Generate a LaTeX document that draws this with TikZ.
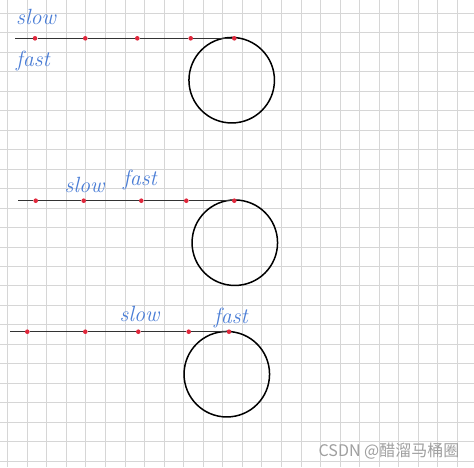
\documentclass[tikz,border=0pt]{standalone}
\usepackage{fontspec}
\newfontfamily\cjkfont{Noto Sans CJK SC}
\usepackage{tikz}
\usetikzlibrary{positioning}

\definecolor{penblue}{RGB}{74,125,214}
\definecolor{dotred}{RGB}{224,40,60}
\definecolor{gridgray}{RGB}{214,214,214}

\begin{document}
\begin{tikzpicture}[x=1pt,y=-1pt]
				\tikzstyle{GridLine}	= [gridgray, line width=0.9pt]
				\tikzstyle{Dot}		= [circle, fill=dotred, minimum size=4.6pt, inner sep=0pt]
				\tikzstyle{Track}	= [line width=1.3pt, black!80]
				\tikzstyle{Loop}	= [circle, draw, line width=1.5pt, minimum size=85.5pt, inner sep=0pt]
				\tikzstyle{Pen}		= [penblue, font=\fontsize{22}{22}\selectfont\itshape, inner sep=0pt]

				\useasboundingbox [fill=white] (0,0) rectangle (474,467);
				% grid paper
				\foreach \i in {0,...,23}
					\draw [GridLine] (7.7+19.55*\i,0) -- (7.7+19.55*\i,467);
				\foreach \j in {0,...,23}
					\draw [GridLine] (0,13.2+19.48*\j) -- (474,13.2+19.48*\j);

				% first row
				\node (c1) at (231.7,80.2) [Loop] {};
				\coordinate (s1) at (15,38.3);
				\node (a1) at (35,38.3) [Dot] {};
				\node (a2) at (85.3,38.3) [Dot] {};
				\node (a3) at (137.3,38.3) [Dot] {};
				\node (a4) at (190.7,38.3) [Dot] {};
				\node (a5) at (234.3,38.3) [Dot] {};
				\node (slow1) at (36,17) [Pen] {slow};
				\node (fast1) at (33,61) [Pen] {fast};

				\draw [Track] (s1) to (a1);
				\draw [Track] (a1) to (a2);
				\draw [Track] (a2) to (a3);
				\draw [Track] (a3) to (a4);
				\draw [Track] (a4) to (a5);

				% second row
				\node (c2) at (234.8,242.7) [Loop] {};
				\coordinate (s2) at (18.3,200.7);
				\node (b1) at (35.7,200.7) [Dot] {};
				\node (b2) at (83.7,200.7) [Dot] {};
				\node (b3) at (141.3,200.7) [Dot] {};
				\node (b4) at (186.3,200.7) [Dot] {};
				\node (b5) at (234.3,200.7) [Dot] {};
				\node (slow2) at (84.5,185) [Pen] {slow};
				\node (fast2) at (140,180) [Pen] {fast};

				\draw [Track] (s2) to (b1);
				\draw [Track] (b1) to (b2);
				\draw [Track] (b2) to (b3);
				\draw [Track] (b3) to (b4);
				\draw [Track] (b4) to (b5);

				% third row
				\node (c3) at (226.8,374.2) [Loop] {};
				\coordinate (s3) at (10,331.7);
				\node (d1) at (27.3,331.7) [Dot] {};
				\node (d2) at (85.3,331.7) [Dot] {};
				\node (d3) at (138.3,331.7) [Dot] {};
				\node (d4) at (188.7,331.7) [Dot] {};
				\node (d5) at (229,331.7) [Dot] {};
				\node (slow3) at (139.5,314) [Pen] {slow};
				\node (fast3) at (231,318) [Pen] {fast};

				\draw [Track] (s3) to (d1);
				\draw [Track] (d1) to (d2);
				\draw [Track] (d2) to (d3);
				\draw [Track] (d3) to (d4);
				\draw [Track] (d4) to (d5);

				\node (mark) at (389,451) [gray!75, font=\cjkfont\fontsize{16}{16}\selectfont, inner sep=0pt] {CSDN @醋溜马桶圈};
			\end{tikzpicture}
\end{document}
